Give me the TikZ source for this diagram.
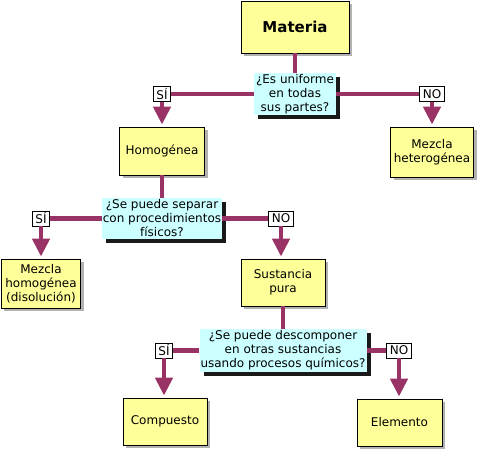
\documentclass[tikz,border=0pt]{standalone}
\usepackage{fontspec}
\setmainfont{DejaVu Sans}
\usetikzlibrary{arrows.meta,shadows}
\definecolor{amarillo}{HTML}{FFFF99}
\definecolor{celeste}{HTML}{CCFFFF}
\definecolor{granate}{HTML}{993366}
\begin{document}
\begin{tikzpicture}[x=1bp,y=-1bp,font=\fontsize{12bp}{14bp}\selectfont,
    caja/.style={draw=black,line width=0.8bp,fill=amarillo,align=center,inner sep=2bp,
      drop shadow={shadow xshift=3bp,shadow yshift=-3bp,fill=black!30,opacity=1}},
    pregunta/.style={fill=celeste,align=center,inner sep=1bp,
      drop shadow={shadow xshift=4bp,shadow yshift=-4bp,fill=black!90,opacity=1}},
    etiqueta/.style={draw=black,line width=0.7bp,fill=white,inner xsep=3bp,inner ysep=1.5bp,minimum height=15bp},
    rama/.style={granate,line width=4.5bp},
    flecha/.style={rama,-{Triangle[width=17bp,length=18bp]},shorten >=2bp}]
    \useasboundingbox (0,0) rectangle (481,453);

    \node[caja,minimum width=108bp,minimum height=52bp,font=\fontsize{15bp}{18bp}\selectfont\bfseries] (materia) at (295,27) {Materia};
    \node[pregunta,minimum width=82bp,minimum height=42bp] (unif) at (295,94) {¿Es uniforme\\en todas\\sus partes?};
    \node[etiqueta] (si1) at (162,94) {SÍ};
    \node[etiqueta] (no1) at (432,94) {NO};
    \node[caja,minimum width=85bp,minimum height=48bp] (homog) at (162,151) {Homogénea};
    \node[caja,minimum width=83bp,minimum height=50bp] (hetero) at (432,152) {Mezcla\\heterogénea};

    \node[pregunta,minimum width=120bp,minimum height=40bp] (fis) at (162,218.5) {¿Se puede separar\\con procedimientos\\físicos?};
    \node[etiqueta] (si2) at (41,218.5) {SÍ};
    \node[etiqueta] (no2) at (281,218.5) {NO};
    \node[caja,minimum width=79bp,minimum height=49bp] (disol) at (41,283.5) {Mezcla\\homogénea\\(disolución)};
    \node[caja,minimum width=84bp,minimum height=47bp] (pura) at (283,282.5) {Sustancia\\pura};

    \node[pregunta,minimum width=167bp,minimum height=43bp] (quim) at (283,350.5) {¿Se puede descomponer\\en otras sustancias\\usando procesos químicos?};
    \node[etiqueta] (si3) at (164,350.5) {SÍ};
    \node[etiqueta] (no3) at (399,350.5) {NO};
    \node[caja,minimum width=84bp,minimum height=47bp] (comp) at (165,421.5) {Compuesto};
    \node[caja,minimum width=85bp,minimum height=47bp] (elem) at (399.5,422.5) {Elemento};

    % primer nivel
    \draw[rama] (materia.south) -- (materia.south |- unif.north);
    \draw[rama] (unif.west) -- (si1.east);
    \draw[rama] (unif.east) -- (no1.west);
    \draw[flecha] (si1.south) -- (si1.south |- homog.north);
    \draw[flecha] (no1.south) -- (no1.south |- hetero.north);

    % segundo nivel
    \draw[rama] (homog.south) -- (homog.south |- fis.north);
    \draw[rama] (fis.west) -- (si2.east);
    \draw[rama] (fis.east) -- (no2.west);
    \draw[flecha] (si2.south) -- (si2.south |- disol.north);
    \draw[flecha] (no2.south) -- (no2.south |- pura.north);

    % tercer nivel
    \draw[rama] (pura.south) -- (pura.south |- quim.north);
    \draw[rama] (quim.west) -- (si3.east);
    \draw[rama] (quim.east) -- (no3.west);
    \draw[flecha] (si3.south) -- (si3.south |- comp.north);
    \draw[flecha] (no3.south) -- (no3.south |- elem.north);
\end{tikzpicture}
\end{document}
